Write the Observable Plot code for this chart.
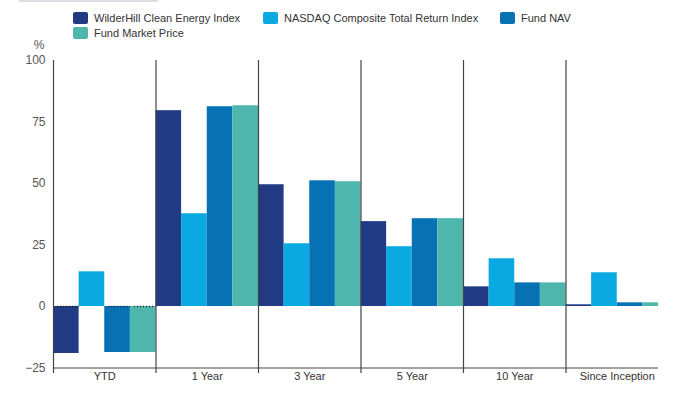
<!DOCTYPE html>
<html>
<head>
<meta charset="utf-8">
<script src="https://cdn.jsdelivr.net/npm/d3@7"></script>
<script src="https://cdn.jsdelivr.net/npm/@observablehq/plot@0.6"></script>
<style>
  body { margin: 0; background: #fff; font-family: "Liberation Sans", Arial, sans-serif; }
  #wrap { position: relative; width: 676px; height: 405px; }
  #topbar { position: absolute; left: 19px; top: 0; width: 139px; height: 2px; background: #dddee3; }
  #legend { position: relative; height: 42px; }
  .item { position: absolute; display: flex; align-items: center; font-size: 11px; color: #333; white-space: nowrap; }
  .sw { width: 15px; height: 12px; border-radius: 2px; margin-right: 6px; }
  #unit { position: absolute; left: 29px; top: 37px; width: 20px; text-align: center; font-size: 12px; line-height: 16px; color: #555; z-index: 2; }
  #chart { width: 658px; overflow: hidden; }
</style>
</head>
<body>
<div id="wrap">
  <div id="topbar"></div>
  <div id="legend"></div>
  <div id="unit">%</div>
  <div id="chart"></div>
</div>
<script>
const periods = ["YTD", "1 Year", "3 Year", "5 Year", "10 Year", "Since Inception"];
const seriesNames = ["WilderHill Clean Energy Index", "NASDAQ Composite Total Return Index", "Fund NAV", "Fund Market Price"];
const colors = ["#213a84", "#0aa9e1", "#0672b4", "#4eb6ad"];
const wilderhill = [-19.1, 79.6, 49.5, 34.5, 8.0, 0.7];
const nasdaq = [14.1, 37.7, 25.5, 24.3, 19.4, 13.7];
const fundNav = [-18.7, 81.2, 51.1, 35.7, 9.6, 1.5];
const fundMarket = [-18.7, 81.6, 50.7, 35.7, 9.6, 1.5];
const yTicks = [-25, 0, 25, 50, 75, 100];

const seriesValues = [wilderhill, nasdaq, fundNav, fundMarket];
const data = [];
periods.forEach((p, i) => {
  seriesValues.forEach((vals, j) => {
    data.push({period: p, series: seriesNames[j], value: vals[i], x1: i + j / 4, x2: i + (j + 1) / 4});
  });
});
const negData = data.filter(d => d.value < 0);
const boundaries = d3.range(periods.length + 1);

// legend
const legendPos = [[73, 12], [263, 12], [500, 12], [73, 27]];
const legend = document.getElementById("legend");
seriesNames.forEach((s, j) => {
  const it = document.createElement("div");
  it.className = "item";
  it.style.left = legendPos[j][0] + "px";
  it.style.top = legendPos[j][1] + "px";
  it.style.height = "12px";
  it.innerHTML = `<span class="sw" style="background:${colors[j]}"></span><span>${s}</span>`;
  legend.appendChild(it);
});

const chart = Plot.plot({
  width: 668,
  height: 363,
  marginTop: 18,
  marginBottom: 37.5,
  marginLeft: 53,
  marginRight: 0,
  style: {fontFamily: "'Liberation Sans', Arial, sans-serif", maxWidth: "none", background: "transparent"},
  x: {domain: [0, periods.length], axis: null},
  y: {domain: [-25, 100], axis: null},
  color: {domain: seriesNames, range: colors},
  marks: [
    Plot.rectY(data, {x1: "x1", x2: "x2", y: "value", fill: "series"}),
    Plot.ruleY(negData, {x1: d => d.x1 + 0.04, x2: "x2", y: 0, stroke: "#222", strokeWidth: 1.5, strokeDasharray: "1,2"}),
    Plot.ruleX(boundaries, {x: d => d, stroke: "#444", strokeWidth: 1.2, insetBottom: -5.5}),
    Plot.ruleY([-25], {stroke: "#444", strokeWidth: 1.2}),
    Plot.axisY({ticks: yTicks, tickSize: 0, tickPadding: 8, fontSize: 12, fill: "#555", label: null, tickFormat: d => d < 0 ? "\u2212" + Math.abs(d) : String(d)}),
    Plot.text(periods, {x: (d, i) => i + 0.5, frameAnchor: "bottom", dy: 12, fontSize: 11, fill: "#333"})
  ]
});
document.getElementById("chart").appendChild(chart);
</script>
</body>
</html>
